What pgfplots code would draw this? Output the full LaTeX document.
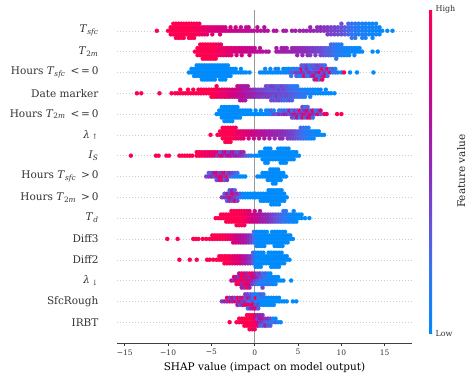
\documentclass[border=0pt]{standalone}
\usepackage{fontspec}
\setmainfont{DejaVu Serif}
\usepackage{pgfplots}
\usepackage{pgfplotstable}
\pgfplotsset{compat=1.18}
\pgfplotsset{colormap={shap}{rgb255(0cm)=(0,139,253) rgb255(2cm)=(55,115,240) rgb255(3.5cm)=(105,80,215) rgb255(5cm)=(140,45,185) rgb255(6.5cm)=(175,20,160) rgb255(8cm)=(215,0,125) rgb255(10cm)=(255,0,81)}}
\pgfplotsset{sw/.style={scatter, only marks, mark=*, mark size=2.1pt, point meta=explicit, mark options={line width=0.1pt}, scatter/use mapped color={draw=mapped color, fill=mapped color}, restrict y to domain=-1:17}}
% absent points are written -1 and sent off the axis
\newcommand\swarm[2]{%
\addplot[sw] table[x=x,y expr={ifthenelse(\thisrow{a}<0,100,#2)},meta=a]{#1};
\addplot[sw] table[x=x,y expr={ifthenelse(\thisrow{b}<0,100,#2+0.17)},meta=b]{#1};
\addplot[sw] table[x=x,y expr={ifthenelse(\thisrow{c}<0,100,#2-0.17)},meta=c]{#1};
\addplot[sw] table[x=x,y expr={ifthenelse(\thisrow{d}<0,100,#2+0.34)},meta=d]{#1};
\addplot[sw] table[x=x,y expr={ifthenelse(\thisrow{e}<0,100,#2-0.34)},meta=e]{#1};
}
% T_sfc
\pgfplotstableread{
x a b c d e
-11.3 1 -1 -1 -1 -1
-10.0 1 -1 -1 -1 -1
-9.7 1 1 1 -1 -1
-9.4 1 1 1 1 -1
-9.1 1 1 1 1 1
-8.8 1 1 1 1 1
-8.5 1 1 1 1 1
-8.2 1 1 1 1 1
-7.9 1 1 1 1 -1
-7.6 1 1 1 1 1
-7.3 1 1 1 1 1
-7.0 .98 .98 .98 .98 .98
-6.7 .96 .96 .96 .96 -1
-6.4 .94 .94 .94 .94 -1
-6.1 .92 .92 .92 -1 -1
-5.8 .9 .9 .9 -1 -1
-5.5 .88 .88 .88 -1 -1
-5.2 .86 .86 -1 -1 -1
-4.9 .85 .85 .85 -1 -1
-4.6 .83 .83 -1 -1 -1
-4.3 .82 .82 -1 -1 -1
-4.0 .8 .8 .8 -1 -1
-3.7 .8 .8 -1 -1 -1
-3.4 .78 .78 -1 -1 -1
-3.1 .77 -1 -1 -1 -1
-2.8 .76 .76 -1 -1 -1
-2.5 .75 -1 -1 -1 -1
-2.2 .74 .74 -1 -1 -1
-1.9 .73 -1 -1 -1 -1
-1.6 .72 .72 -1 -1 -1
-1.3 .72 -1 -1 -1 -1
-1.0 .71 .71 -1 -1 -1
-0.7 .7 .7 -1 -1 -1
-0.4 .7 -1 -1 -1 -1
-0.1 .7 -1 -1 -1 -1
0.3 .69 .69 -1 -1 -1
0.7 .68 -1 -1 -1 -1
1.1 .67 .67 -1 -1 -1
1.5 .66 -1 -1 -1 -1
2.2 .65 -1 -1 -1 -1
2.5 .64 -1 -1 -1 -1
3.3 .62 -1 -1 -1 -1
3.6 .61 -1 -1 -1 -1
4.3 .6 -1 -1 -1 -1
4.7 .59 -1 -1 -1 -1
5.2 .58 -1 -1 -1 -1
5.6 .57 -1 -1 -1 -1
6.0 .56 -1 -1 -1 -1
6.4 .55 .55 -1 -1 -1
6.8 .54 -1 -1 -1 -1
7.2 .52 .52 -1 -1 -1
7.6 .5 .5 -1 -1 -1
8.0 .48 .48 -1 -1 -1
8.4 .45 .45 .45 -1 -1
8.8 .42 .42 .42 -1 -1
9.2 .4 .4 .4 -1 -1
9.6 .38 .38 .38 -1 -1
10.0 .35 .35 .35 .35 -1
10.4 .3 .3 .3 -1 -1
10.8 .25 .25 .25 .25 -1
11.2 .2 .2 .2 .2 .2
11.6 .15 .15 .15 .15 .15
12.0 .12 .12 .12 .12 -1
12.4 .1 .1 .1 .1 .1
12.8 .08 .08 .08 .08 .08
13.2 .06 .06 .06 .06 -1
13.6 .05 .05 .05 .05 .05
14.0 .05 .05 .05 .05 -1
14.4 .03 .03 .03 -1 -1
14.7 0 -1 -1 -1 -1
15.3 0 -1 -1 -1 -1
15.9 0 -1 -1 -1 -1
}\tA
% T_2m
\pgfplotstableread{
x a b c d e
-6.9 1 -1 -1 -1 -1
-6.6 1 1 1 -1 -1
-6.3 1 1 1 1 -1
-6.0 1 1 1 1 1
-5.7 1 1 1 1 1
-5.4 1 1 1 1 1
-5.1 1 1 1 1 1
-4.8 1 1 1 1 1
-4.5 .98 .98 .98 .98 .98
-4.2 .95 .95 .95 .95 -1
-3.9 .92 .92 .92 .92 -1
-3.6 .9 .9 .9 -1 -1
-3.3 .88 .88 .88 -1 -1
-3.0 .86 .86 .86 -1 -1
-2.7 .85 .85 .85 -1 -1
-2.4 .83 .83 -1 -1 -1
-2.1 .81 .81 .81 -1 -1
-1.8 .8 .8 -1 -1 -1
-1.5 .78 .78 .78 -1 -1
-1.2 .76 .76 -1 -1 -1
-0.9 .75 .75 -1 -1 -1
-0.6 .74 .74 .74 -1 -1
-0.3 .72 .72 -1 -1 -1
0.0 .7 .7 -1 -1 -1
0.3 .7 -1 -1 -1 -1
0.6 .68 .68 -1 -1 -1
0.9 .67 -1 -1 -1 -1
1.3 .66 -1 -1 -1 -1
1.6 .65 -1 -1 -1 -1
2.5 .62 .62 -1 -1 -1
2.8 .61 -1 -1 -1 -1
3.1 .6 .6 -1 -1 -1
3.4 .6 .6 -1 -1 -1
3.7 .58 .58 -1 -1 -1
4.0 .57 -1 -1 -1 -1
4.3 .56 .56 -1 -1 -1
4.6 .55 .55 -1 -1 -1
4.9 .54 .54 .54 -1 -1
5.2 .52 .52 -1 -1 -1
5.5 .5 .5 .5 -1 -1
5.8 .5 .5 -1 -1 -1
6.1 .48 .48 .48 -1 -1
6.4 .45 .45 .45 -1 -1
6.7 .45 .45 -1 -1 -1
7.0 .42 .42 .42 -1 -1
7.3 .4 .4 -1 -1 -1
7.6 .38 .38 .38 -1 -1
7.9 .35 .35 .35 -1 -1
8.2 .3 .3 .3 -1 -1
8.5 .28 .28 .28 -1 -1
8.8 .25 .25 .25 .25 -1
9.1 .2 .2 .2 .2 -1
9.4 .15 .15 .15 .15 .15
9.7 .12 .12 .12 .12 -1
10.0 .1 .1 .1 .1 -1
10.3 .08 .08 .08 -1 -1
10.6 .06 .06 .06 -1 -1
10.9 .05 .05 .05 -1 -1
11.2 .05 .05 -1 -1 -1
11.5 .04 .04 .04 -1 -1
11.8 .03 .03 -1 -1 -1
12.1 .02 .02 -1 -1 -1
12.4 0 -1 -1 -1 -1
13.6 0 -1 -1 -1 -1
14.2 0 -1 -1 -1 -1
}\tB
% Hours Tsfc <= 0
\pgfplotstableread{
x a b c d e
-7.6 0 -1 -1 -1 -1
-7.3 0 0 -1 -1 -1
-7.0 0 0 0 -1 -1
-6.7 0 0 0 0 -1
-6.4 0 0 0 0 -1
-6.1 0 0 0 0 0
-5.8 0 0 0 0 0
-5.5 0 0 0 0 0
-5.2 0 0 0 0 0
-4.9 0 0 0 0 0
-4.6 0 0 0 0 0
-4.3 0 0 0 0 -1
-4.0 0 0 0 0 0
-3.7 0 0 0 0 0
-3.4 0 0 0 0 0
-3.1 0 0 0 0 -1
-2.8 0 0 0 -1 -1
-2.5 0 0 -1 -1 -1
-2.2 0 0 -1 -1 -1
-1.9 0 -1 -1 -1 -1
-1.6 0 0 -1 -1 -1
-1.3 0 -1 -1 -1 -1
-1.0 0 -1 -1 -1 -1
-0.6 0 -1 -1 -1 -1
0.6 .05 -1 -1 -1 -1
0.9 0 -1 -1 -1 -1
1.2 0 .05 -1 -1 -1
1.5 0 -1 -1 -1 -1
1.8 .05 0 -1 -1 -1
2.1 0 -1 -1 -1 -1
2.4 0 .1 -1 -1 -1
2.7 .05 0 -1 -1 -1
3.0 0 -1 -1 -1 -1
3.3 .1 0 -1 -1 -1
3.6 0 .05 -1 -1 -1
3.9 .1 0 -1 -1 -1
4.2 .3 .1 .2 -1 -1
4.5 .35 .1 -1 -1 -1
4.8 .45 .15 .3 -1 -1
5.1 .4 .2 .1 -1 -1
5.4 .5 .9 .2 .3 -1
5.7 .4 .2 .95 .3 -1
6.0 .3 .5 .2 .4 -1
6.3 .5 .3 .2 .15 -1
6.6 .4 .2 .5 .3 -1
6.9 .4 .35 .9 .3 .5
7.2 .5 .3 .2 .4 .95
7.5 .9 .4 .3 .35 .2
7.8 .35 .95 .45 .3 .9
8.1 .5 .3 .9 .2 -1
8.4 .3 .95 .2 -1 -1
8.7 .9 .2 -1 -1 -1
9.0 .1 .3 -1 -1 -1
9.3 .2 .1 -1 -1 -1
9.6 .05 -1 -1 -1 -1
10.0 .1 -1 -1 -1 -1
10.3 1 -1 -1 -1 -1
11.0 0 -1 -1 -1 -1
11.8 0 -1 -1 -1 -1
13.7 0 -1 -1 -1 -1
}\tC
% Date marker
\pgfplotstableread{
x a b c d e
-13.6 1 -1 -1 -1 -1
-13.1 1 -1 -1 -1 -1
-11.0 1 -1 -1 -1 -1
-9.6 1 -1 -1 -1 -1
-9.2 1 -1 -1 -1 -1
-8.9 1 -1 -1 -1 -1
-8.6 1 1 -1 -1 -1
-8.3 1 -1 -1 -1 -1
-8.0 1 -1 -1 -1 -1
-7.7 1 1 -1 -1 -1
-7.4 1 -1 -1 -1 -1
-7.1 1 1 -1 -1 -1
-6.8 1 -1 -1 -1 -1
-6.5 1 1 -1 -1 -1
-6.2 1 1 -1 -1 -1
-5.9 1 1 -1 -1 -1
-5.6 1 1 -1 -1 -1
-5.3 1 1 -1 -1 -1
-5.0 1 1 1 -1 -1
-4.7 1 1 1 -1 -1
-4.4 .96 .96 .96 .96 -1
-4.1 .93 .93 .93 -1 -1
-3.8 .9 .9 .9 -1 -1
-3.5 .88 .88 .88 -1 -1
-3.2 .85 .85 .85 -1 -1
-2.9 .82 .82 .82 -1 -1
-2.6 .8 .8 .8 -1 -1
-2.3 .78 .78 .78 -1 -1
-2.0 .75 .75 .75 .75 -1
-1.7 .7 .72 .68 .7 .66
-1.4 .68 .66 .7 .64 .68
-1.1 .65 .62 .66 .6 .64
-0.8 .62 .6 .58 .62 -1
-0.5 .6 .55 .58 -1 -1
-0.2 .58 .5 .55 -1 -1
0.1 .55 .45 .5 -1 -1
0.4 .5 .42 .48 -1 -1
0.7 .5 .4 .45 -1 -1
1.0 .48 .38 .42 -1 -1
1.3 .45 .35 .42 .4 -1
1.6 .42 .35 .45 .3 -1
1.9 .42 .3 .38 .45 .35
2.2 .4 .35 .3 .42 .38
2.5 .4 .3 .45 .35 .3
2.8 .38 .42 .32 .28 .4
3.1 .38 .3 .35 .4 .3
3.4 .35 .4 .3 .32 .25
3.7 .35 .28 .38 .3 .22
4.0 .32 .25 .3 .2 .35
4.3 .3 .22 .28 .18 .25
4.6 .28 .2 .25 .15 -1
4.9 .25 .18 .2 .12 -1
5.2 .2 .15 .18 -1 -1
5.5 .18 .1 .15 -1 -1
5.8 .15 .1 .12 -1 -1
6.1 .12 .08 -1 -1 -1
6.4 .1 .05 .08 -1 -1
6.7 .08 .05 -1 -1 -1
7.0 .05 .03 -1 -1 -1
7.3 .05 0 -1 -1 -1
7.6 0 .03 -1 -1 -1
7.9 0 -1 -1 -1 -1
8.2 0 0 -1 -1 -1
8.5 0 -1 -1 -1 -1
8.8 0 -1 -1 -1 -1
9.2 0 -1 -1 -1 -1
}\tD
% Hours T2m <= 0
\pgfplotstableread{
x a b c d e
-4.4 0 -1 -1 -1 -1
-4.1 0 0 -1 -1 -1
-3.8 0 0 0 0 -1
-3.5 0 0 0 0 0
-3.2 0 0 0 0 0
-2.9 0 0 0 0 0
-2.6 0 0 0 0 0
-2.3 0 0 0 0 -1
-2.0 0 0 0 0 -1
-1.7 0 0 0 -1 -1
-1.4 0 0 -1 -1 -1
-1.1 0 0 -1 -1 -1
-0.8 0 0 -1 -1 -1
-0.5 0 0 -1 -1 -1
-0.2 0 -1 -1 -1 -1
0.1 0 0 -1 -1 -1
0.4 0 -1 -1 -1 -1
0.7 0 0 -1 -1 -1
1.0 0 -1 -1 -1 -1
1.3 0 .05 -1 -1 -1
1.6 .05 0 -1 -1 -1
1.9 .1 .3 -1 -1 -1
2.2 .4 .1 -1 -1 -1
2.5 .3 -1 -1 -1 -1
2.8 .5 .2 -1 -1 -1
3.1 .4 .1 -1 -1 -1
3.4 .6 .3 -1 -1 -1
3.7 .5 .2 -1 -1 -1
4.0 .3 .6 -1 -1 -1
4.3 .5 .2 .4 -1 -1
4.6 .9 .4 .3 -1 -1
4.9 .5 .3 .7 -1 -1
5.2 .4 .95 .2 -1 -1
5.5 .6 .3 .9 .4 -1
5.8 .95 .5 .3 .2 -1
6.1 .4 .9 .6 .3 -1
6.4 .9 .3 .95 -1 -1
6.7 .5 .9 .2 -1 -1
7.0 .4 .2 -1 -1 -1
7.3 .9 .3 -1 -1 -1
7.6 .3 .8 -1 -1 -1
8.0 .95 -1 -1 -1 -1
8.3 .9 -1 -1 -1 -1
9.5 1 -1 -1 -1 -1
10.0 1 -1 -1 -1 -1
}\tE
% lambda up
\pgfplotstableread{
x a b c d e
-5.1 1 -1 -1 -1 -1
-4.3 1 -1 -1 -1 -1
-4.0 1 1 -1 -1 -1
-3.7 1 1 1 1 -1
-3.4 1 1 1 1 1
-3.1 1 1 1 1 1
-2.8 1 1 1 1 1
-2.5 1 1 1 1 -1
-2.2 .95 .95 .95 .95 -1
-1.9 .9 .9 .9 -1 -1
-1.6 .88 .88 .88 -1 -1
-1.3 .85 .85 .85 -1 -1
-1.0 .82 .82 -1 -1 -1
-0.7 .8 .8 .8 -1 -1
-0.4 .78 .78 -1 -1 -1
-0.1 .75 .75 .75 -1 -1
0.2 .72 .72 -1 -1 -1
0.5 .7 .7 .7 -1 -1
0.8 .68 .68 -1 -1 -1
1.1 .65 .65 .65 -1 -1
1.4 .62 .62 -1 -1 -1
1.7 .6 .6 .6 -1 -1
2.0 .58 .58 -1 -1 -1
2.3 .55 .55 .55 -1 -1
2.6 .55 .55 -1 -1 -1
2.9 .52 .52 .52 -1 -1
3.2 .5 .5 .5 -1 -1
3.5 .48 .48 -1 -1 -1
3.8 .45 .45 .45 -1 -1
4.1 .42 .42 .42 -1 -1
4.4 .4 .4 .4 -1 -1
4.7 .35 .35 .35 -1 -1
5.0 .3 .3 .3 -1 -1
5.3 .25 .25 .25 .25 -1
5.6 .2 .2 .2 .2 -1
5.9 .15 .15 .15 .15 -1
6.2 .1 .1 .1 .1 -1
6.5 .08 .08 .08 -1 -1
6.8 .05 .05 .05 -1 -1
7.1 .03 .03 -1 -1 -1
7.4 0 0 -1 -1 -1
7.7 0 -1 -1 -1 -1
8.0 0 -1 -1 -1 -1
}\tF
% I_S
\pgfplotstableread{
x a b c d e
-14.3 1 -1 -1 -1 -1
-11.4 1 -1 -1 -1 -1
-11.1 1 -1 -1 -1 -1
-10.2 1 -1 -1 -1 -1
-9.9 1 -1 -1 -1 -1
-8.7 1 -1 -1 -1 -1
-8.4 1 -1 -1 -1 -1
-8.1 1 -1 -1 -1 -1
-7.8 1 -1 -1 -1 -1
-7.5 1 -1 -1 -1 -1
-7.2 1 -1 -1 -1 -1
-6.7 1 1 -1 -1 -1
-6.4 1 1 -1 -1 -1
-6.1 .95 .95 -1 -1 -1
-5.8 .95 .95 -1 -1 -1
-5.5 .9 .9 -1 -1 -1
-5.2 .9 .9 -1 -1 -1
-4.9 .88 .88 -1 -1 -1
-4.6 .85 .85 -1 -1 -1
-4.3 .4 .9 -1 -1 -1
-4.0 .85 .3 -1 -1 -1
-3.7 .8 .5 -1 -1 -1
-3.4 .45 .8 -1 -1 -1
-3.1 .75 .4 -1 -1 -1
-2.8 .7 .5 -1 -1 -1
-2.5 .5 .7 -1 -1 -1
-2.2 .6 .4 -1 -1 -1
-1.9 .55 .3 -1 -1 -1
-1.6 .5 .6 -1 -1 -1
-1.3 .4 .55 -1 -1 -1
-1.0 .3 -1 -1 -1 -1
-0.7 .2 -1 -1 -1 -1
-0.4 .1 -1 -1 -1 -1
0.0 .05 -1 -1 -1 -1
0.3 0 -1 -1 -1 -1
0.6 0 0 -1 -1 -1
0.9 0 0 0 -1 -1
1.2 0 0 0 0 0
1.5 0 0 0 0 0
1.8 0 0 0 0 -1
2.1 0 0 0 -1 -1
2.4 0 0 0 -1 -1
2.7 0 0 0 0 -1
3.0 0 0 0 0 0
3.3 0 0 0 0 0
3.6 0 0 0 0 0
3.9 0 0 0 0 -1
4.2 0 0 0 -1 -1
4.5 0 0 0 -1 -1
4.8 0 0 -1 -1 -1
5.1 0 -1 -1 -1 -1
}\tG
% Hours Tsfc > 0
\pgfplotstableread{
x a b c d e
-5.6 .4 -1 -1 -1 -1
-5.3 .45 .3 -1 -1 -1
-5.0 .5 .35 -1 -1 -1
-4.7 .4 .6 -1 -1 -1
-4.4 .5 .9 .3 -1 -1
-4.1 .95 .4 .6 -1 -1
-3.8 .9 .5 1 -1 -1
-3.5 .4 .95 .3 -1 -1
-3.2 1 .3 .5 -1 -1
-2.9 .3 .5 -1 -1 -1
-2.6 .2 .4 -1 -1 -1
-2.3 .1 .3 -1 -1 -1
-2.0 .05 .2 -1 -1 -1
-1.7 0 -1 -1 -1 -1
-1.4 0 -1 -1 -1 -1
-1.1 0 -1 -1 -1 -1
0.3 0 -1 -1 -1 -1
0.6 0 -1 -1 -1 -1
0.9 0 0 -1 -1 -1
1.2 0 0 -1 -1 -1
1.5 0 0 0 -1 -1
1.8 0 0 0 0 -1
2.1 0 0 0 0 0
2.4 0 0 0 0 0
2.7 0 0 0 0 -1
3.0 0 0 0 -1 -1
3.3 0 0 -1 -1 -1
3.6 0 -1 -1 -1 -1
}\tH
% Hours T2m > 0
\pgfplotstableread{
x a b c d e
-3.8 .4 -1 -1 -1 -1
-3.5 .5 .3 -1 -1 -1
-3.2 .45 .6 .35 -1 -1
-2.9 .9 .4 .5 .3 -1
-2.6 .5 .95 .4 .6 -1
-2.3 .4 .5 .9 .3 -1
-2.0 .3 .5 .4 -1 -1
-1.7 .2 .35 -1 -1 -1
-1.4 .1 0 -1 -1 -1
-1.1 0 0 -1 -1 -1
-0.8 0 0 -1 -1 -1
-0.5 0 0 -1 -1 -1
-0.2 0 0 -1 -1 -1
0.1 0 0 -1 -1 -1
0.4 0 0 -1 -1 -1
0.7 0 0 0 -1 -1
1.0 0 0 0 -1 -1
1.3 0 0 0 -1 -1
1.6 0 0 0 0 -1
1.9 0 0 0 0 0
2.2 0 0 0 0 0
2.5 0 0 0 0 0
2.8 0 0 0 0 0
3.1 0 0 0 0 -1
3.4 0 0 0 -1 -1
3.7 0 -1 -1 -1 -1
}\tI
% T_d
\pgfplotstableread{
x a b c d e
-4.5 1 -1 -1 -1 -1
-4.2 1 -1 -1 -1 -1
-3.9 1 1 -1 -1 -1
-3.6 1 1 -1 -1 -1
-3.3 1 1 1 -1 -1
-3.0 1 1 1 -1 -1
-2.7 1 1 1 1 -1
-2.4 1 1 1 1 -1
-2.1 1 1 1 1 1
-1.8 1 1 1 1 1
-1.5 1 1 1 1 1
-1.2 .95 .95 .95 .95 .95
-0.9 .9 .9 .9 .9 -1
-0.6 .85 .85 .85 .85 -1
-0.3 .8 .8 .8 -1 -1
0.0 .75 .75 .75 .75 -1
0.3 .7 .7 .7 -1 -1
0.6 .65 .65 .65 .65 -1
0.9 .6 .6 .6 -1 -1
1.2 .55 .55 .55 -1 -1
1.5 .5 .5 .5 -1 -1
1.8 .45 .45 .45 -1 -1
2.1 .4 .4 .4 -1 -1
2.4 .35 .35 .35 -1 -1
2.7 .3 .3 .3 -1 -1
3.0 .25 .25 .25 -1 -1
3.3 .2 .2 .2 .2 -1
3.6 .15 .15 .15 .15 -1
3.9 .1 .1 .1 -1 -1
4.2 .05 .05 .05 -1 -1
4.5 .03 .03 .03 .03 -1
4.8 0 0 0 -1 -1
5.1 0 0 -1 -1 -1
5.4 0 0 -1 -1 -1
5.8 0 -1 -1 -1 -1
6.3 0 -1 -1 -1 -1
}\tJ
% Diff3
\pgfplotstableread{
x a b c d e
-10.1 1 -1 -1 -1 -1
-8.9 1 -1 -1 -1 -1
-7.1 1 -1 -1 -1 -1
-6.8 1 -1 -1 -1 -1
-6.5 1 -1 -1 -1 -1
-6.0 1 -1 -1 -1 -1
-5.6 1 -1 -1 -1 -1
-5.2 1 -1 -1 -1 -1
-4.9 1 1 -1 -1 -1
-4.6 1 1 -1 -1 -1
-4.3 1 1 -1 -1 -1
-4.0 1 1 -1 -1 -1
-3.7 1 1 -1 -1 -1
-3.4 .95 .95 -1 -1 -1
-3.1 .92 .92 -1 -1 -1
-2.8 .9 .9 -1 -1 -1
-2.5 .85 .85 .85 -1 -1
-2.2 .8 .8 .8 -1 -1
-1.9 .75 .75 .75 -1 -1
-1.6 .7 .7 .7 -1 -1
-1.3 .65 .65 .65 -1 -1
-1.0 .6 .6 .6 -1 -1
-0.7 .5 .5 .5 -1 -1
-0.4 .4 .4 .4 -1 -1
-0.1 .2 .2 .2 .2 -1
0.2 .05 .05 .05 .05 .05
0.5 0 0 0 0 0
0.8 0 0 0 0 0
1.1 0 0 0 0 0
1.4 0 0 0 0 -1
1.7 0 0 0 -1 -1
2.0 0 0 0 0 -1
2.3 0 0 0 0 0
2.6 0 0 0 0 0
2.9 0 0 0 0 0
3.2 0 0 0 0 0
3.5 0 0 0 0 -1
3.8 0 0 0 -1 -1
4.1 0 0 -1 -1 -1
4.4 0 -1 -1 -1 -1
}\tK
% Diff2
\pgfplotstableread{
x a b c d e
-8.7 1 -1 -1 -1 -1
-7.5 1 -1 -1 -1 -1
-6.7 1 -1 -1 -1 -1
-5.5 1 -1 -1 -1 -1
-5.2 1 -1 -1 -1 -1
-4.8 1 -1 -1 -1 -1
-4.4 1 -1 -1 -1 -1
-4.1 1 1 -1 -1 -1
-3.8 1 1 -1 -1 -1
-3.5 1 1 1 -1 -1
-3.2 1 1 1 -1 -1
-2.9 .95 .95 .95 -1 -1
-2.6 .9 .9 .9 -1 -1
-2.3 .88 .88 .88 -1 -1
-2.0 .85 .85 .85 -1 -1
-1.7 .8 .8 .8 -1 -1
-1.4 .7 .7 .7 -1 -1
-1.1 .65 .65 .65 -1 -1
-0.8 .55 .55 .55 -1 -1
-0.5 .45 .45 .45 -1 -1
-0.2 .3 .3 .3 .3 -1
0.1 .05 .05 .05 .05 .05
0.4 0 0 0 0 0
0.7 0 0 0 0 0
1.0 0 0 0 0 -1
1.3 0 0 0 -1 -1
1.6 0 0 0 0 -1
1.9 0 0 0 0 0
2.2 0 0 0 0 0
2.5 0 0 0 0 0
2.8 0 0 0 0 0
3.1 0 0 0 0 -1
3.4 0 0 0 -1 -1
3.7 0 0 -1 -1 -1
4.0 0 -1 -1 -1 -1
}\tL
% lambda down
\pgfplotstableread{
x a b c d e
-2.7 .7 -1 -1 -1 -1
-2.4 .5 .9 -1 -1 -1
-2.1 .9 .6 1 -1 -1
-1.8 1 .5 .95 .7 -1
-1.5 .9 1 .5 .95 .6
-1.2 1 .6 .95 .9 .5
-0.9 .6 .95 .9 .5 1
-0.6 .9 .5 .7 1 .6
-0.3 .55 .8 .45 .9 -1
0.0 .4 .7 .3 .6 -1
0.3 .3 .5 .2 .4 -1
0.6 .2 .35 .1 .45 -1
0.9 .1 .3 .05 .2 .4
1.2 .05 .2 .1 .3 -1
1.5 0 .1 .2 .05 -1
1.8 0 .05 .15 0 -1
2.1 0 .1 0 -1 -1
2.4 0 0 .05 -1 -1
2.7 0 0 -1 -1 -1
3.0 0 -1 -1 -1 -1
3.3 0 -1 -1 -1 -1
4.2 0 -1 -1 -1 -1
}\tM
% SfcRough
\pgfplotstableread{
x a b c d e
-3.8 .4 -1 -1 -1 -1
-3.5 .6 -1 -1 -1 -1
-3.2 .5 .9 -1 -1 -1
-2.9 .95 .4 -1 -1 -1
-2.6 .5 .7 -1 -1 -1
-2.3 .9 .4 -1 -1 -1
-2.0 .45 1 .6 -1 -1
-1.7 .9 .5 .35 -1 -1
-1.4 .4 .95 .6 -1 -1
-1.1 .5 .3 .9 .45 -1
-0.8 .3 .6 .9 .4 .2
-0.5 .2 .45 .95 .3 .5
-0.2 .4 .1 .9 .2 .6
0.1 .1 .95 .3 .05 .9
0.4 0 .2 .4 .1 .3
0.7 0 .1 .05 .3 -1
1.0 0 .05 0 .2 -1
1.3 0 .1 0 -1 -1
1.6 0 0 0 -1 -1
1.9 0 0 0 -1 -1
2.2 0 0 0 -1 -1
2.5 0 0 -1 -1 -1
2.8 0 0 -1 -1 -1
3.1 0 -1 -1 -1 -1
3.4 0 -1 -1 -1 -1
3.7 0 -1 -1 -1 -1
4.4 0 -1 -1 -1 -1
4.8 0 -1 -1 -1 -1
}\tN
% IRBT
\pgfplotstableread{
x a b c d e
-2.9 1 -1 -1 -1 -1
-2.1 1 -1 -1 -1 -1
-1.8 1 1 -1 -1 -1
-1.5 1 1 -1 -1 -1
-1.2 1 1 1 -1 -1
-0.9 1 1 1 1 -1
-0.6 1 1 1 1 1
-0.3 1 1 1 1 1
0.0 .95 .9 1 .85 .9
0.3 .7 .4 .9 .5 -1
0.6 .5 .7 .3 .6 -1
0.9 .4 .6 .2 .5 -1
1.2 .3 .45 .6 -1 -1
1.5 .2 .5 .35 -1 -1
1.8 .1 .4 .3 -1 -1
2.1 .2 .05 -1 -1 -1
2.4 .3 0 -1 -1 -1
2.7 .1 -1 -1 -1 -1
3.0 0 -1 -1 -1 -1
}\tO
\begin{document}
\begin{tikzpicture}
\path[use as bounding box] (-117pt,-34pt) rectangle (357pt,343pt);
\begin{axis}[
  at={(0,0)}, anchor=south west,
  width=295pt, height=333pt, scale only axis,
  xmin=-15.9, xmax=18.15, ymin=0, ymax=16,
  axis x line*=bottom, axis y line*=left,
  x axis line style={-, black!75, line width=0.6pt},
  y axis line style={draw=none},
  xtick={-15,-10,-5,0,5,10,15},
  xticklabels={−15,−10,−5,0,5,10,15},
  ytick={1,...,15},
  yticklabels={IRBT, SfcRough, {\textit{λ}\,\textsubscript{↓}}, Diff2, Diff3, {\textit{T}\textsubscript{\textit{d}}}, {Hours \textit{T}\textsubscript{2\textit{m}}\ \,>\,0}, {Hours \textit{T}\textsubscript{\textit{sfc}}\ \,>\,0}, {\textit{I}\textsubscript{\textit{S}}}, {\textit{λ}\,\textsubscript{↑}}, {Hours \textit{T}\textsubscript{2\textit{m}}\ \,<\,=\,0}, Date marker, {Hours \textit{T}\textsubscript{\textit{sfc}}\ \,<\,=\,0}, {\textit{T}\textsubscript{2\textit{m}}}, {\textit{T}\textsubscript{\textit{sfc}}}},
  ytick style={draw=none},
  xtick style={black!80, line width=0.6pt},
  tick align=outside, major tick length=3pt,
  x tick label style={font=\fontsize{7.5}{9}\selectfont, text=black!80},
  y tick label style={font=\fontsize{10.5}{12}\selectfont, text=black!80, xshift=-12pt},
  xlabel={SHAP value (impact on model output)},
  xlabel style={font=\fontsize{10.5}{12}\selectfont},
  ymajorgrids, major grid style={black!20, line width=0.4pt, dash pattern=on 0.5pt off 2.5pt},
  colormap name=shap, point meta min=0, point meta max=1,
  colorbar,
  colorbar style={
    at={(parent axis.north east)}, anchor=north west, xshift=8.5pt, yshift=0.7pt,
    scale only axis, width=3pt, height=324pt,
    ytick={0,1}, yticklabels={Low,High},
    y tick label style={font=\fontsize{8}{9}\selectfont, text=black!80},
    major tick length=0pt, axis line style={draw=none},
    ylabel={Feature value}, ylabel shift=-5pt,
    ylabel style={font=\fontsize{10.5}{12}\selectfont, text=black!85},
  },
  clip=false,
]
\addplot[black!40, line width=1pt, forget plot] coordinates {(0,0) (0,16)};
\swarm{\tA}{15}
\swarm{\tB}{14}
\swarm{\tC}{13}
\swarm{\tD}{12}
\swarm{\tE}{11}
\swarm{\tF}{10}
\swarm{\tG}{9}
\swarm{\tH}{8}
\swarm{\tI}{7}
\swarm{\tJ}{6}
\swarm{\tK}{5}
\swarm{\tL}{4}
\swarm{\tM}{3}
\swarm{\tN}{2}
\swarm{\tO}{1}
\end{axis}
\end{tikzpicture}
\end{document}
